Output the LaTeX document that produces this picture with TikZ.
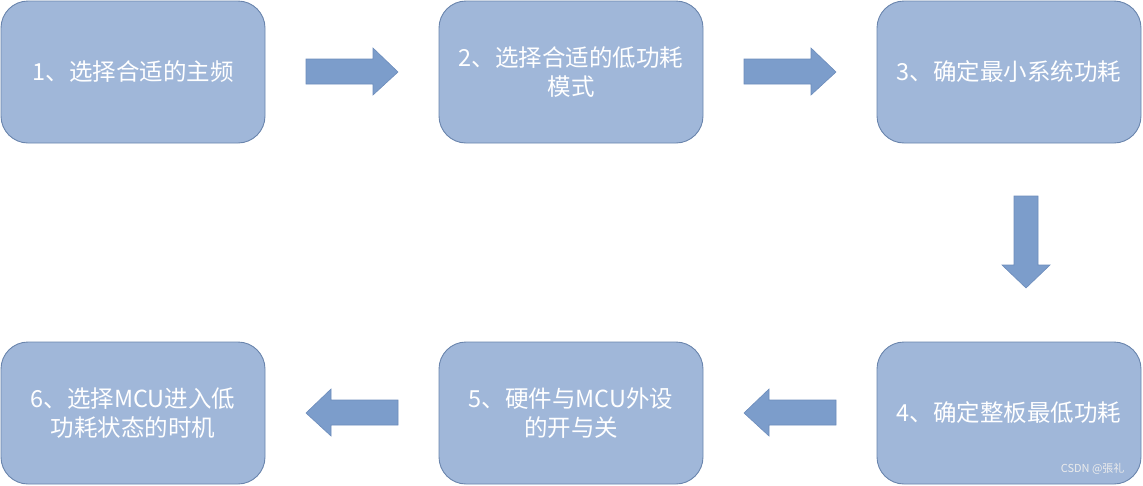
\documentclass[tikz,border=0pt]{standalone}
\usepackage{fontspec}
\newfontfamily\cjk{Noto Sans CJK SC}
\definecolor{boxfill}{HTML}{A0B7D9}
\definecolor{boxline}{HTML}{6A85AD}
\definecolor{arrfill}{HTML}{7C9DCB}
\definecolor{arrline}{HTML}{6C8CBB}
\tikzset{
  stepbox/.style={draw=boxline, line width=0.9pt, fill=boxfill, rounded corners=27pt,
    minimum width=264pt, minimum height=142pt, inner sep=0pt, text=white,
    align=center, text width=250pt, font=\cjk\fontsize{23.5}{28.5}\selectfont},
  blockarrow/.style={draw=arrline, line width=0.6pt, fill=arrfill}
}
\begin{document}
\begin{tikzpicture}[x=1pt,y=-1pt]
\useasboundingbox (0,0) rectangle (1143,485);
\node[stepbox] (b1) at (133,72) {1、选择合适的主频};
\node[stepbox] (b2) at (571,72) {2、选择合适的低功耗\\模式};
\node[stepbox] (b3) at (1009,72) {3、确定最小系统功耗};
\node[stepbox] (b4) at (1009,413) {4、确定整板最低功耗};
\node[stepbox] (b5) at (571,413) {5、硬件与MCU外设\\的开与关};
\node[stepbox] (b6) at (133,413) {6、选择MCU进入低\\功耗状态的时机};
% right arrows
\draw[blockarrow] (306,59) -- (373,59) -- (373,48) -- (398,72) -- (373,95) -- (373,84) -- (306,84) -- cycle;
\draw[blockarrow] (744,59) -- (811,59) -- (811,48) -- (836,72) -- (811,95) -- (811,84) -- (744,84) -- cycle;
% down arrow
\draw[blockarrow] (1014,196) -- (1038,196) -- (1038,265) -- (1050,265) -- (1026,288) -- (1002,265) -- (1014,265) -- cycle;
% left arrows
\draw[blockarrow] (398,400) -- (331,400) -- (331,389) -- (306,413) -- (331,436) -- (331,425) -- (398,425) -- cycle;
\draw[blockarrow] (836,400) -- (769,400) -- (769,389) -- (744,413) -- (769,436) -- (769,425) -- (836,425) -- cycle;
\node[font=\cjk\fontsize{11}{12}\selectfont, text=white!85!gray, anchor=east] (wm) at (1128,469) {CSDN @張礼};
\end{tikzpicture}
\end{document}
